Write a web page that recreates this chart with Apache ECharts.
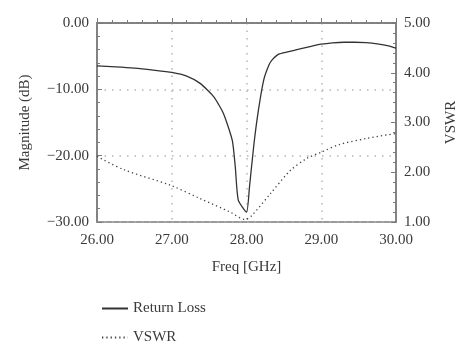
<!DOCTYPE html>
<html><head><meta charset="utf-8">
<script src="https://cdn.jsdelivr.net/npm/echarts@6/dist/echarts.min.js"></script>
<style>html,body{margin:0;padding:0;background:#fff}#c{width:474px;height:358px}</style>
</head><body><div id="c"></div>
<script>
const rlFreq = [26.0, 26.25, 26.5, 26.75, 27.0, 27.2, 27.38, 27.56, 27.69, 27.81, 27.85, 27.89, 28.0, 28.04, 28.10, 28.16, 28.23, 28.30, 28.34, 28.43, 28.55, 28.7, 28.85, 29.0, 29.15, 29.3, 29.45, 29.6, 29.75, 29.9, 30.0];
const rlVals = [-6.45, -6.6, -6.8, -7.1, -7.45, -8.0, -9.1, -11.1, -13.6, -17.7, -21.7, -26.7, -28.5, -24.7, -18.2, -13.1, -8.6, -6.35, -5.6, -4.7, -4.35, -3.95, -3.55, -3.2, -3.0, -2.9, -2.9, -2.97, -3.15, -3.45, -3.8];
const vsFreq = [26.0, 26.36, 26.98, 27.38, 27.78, 27.98, 28.07, 28.32, 28.59, 28.81, 29.01, 29.25, 29.61, 30.0];
const vsVals = [2.32, 2.05, 1.74, 1.47, 1.20, 1.05, 1.13, 1.57, 2.04, 2.28, 2.41, 2.56, 2.68, 2.78];
const xTicks = {min: 26, max: 30, interval: 1};
const fmt = v => (v < 0 ? '\u2212' : '') + Math.abs(v).toFixed(2);
const font = 'Liberation Serif';
const axisCol = '#7a7a7a', txt = '#3a3a3a';
const chart = echarts.init(document.getElementById('c'), null, {renderer: 'canvas'});
chart.setOption({
  animation: false,
  textStyle: {fontFamily: font},
  grid: {left: 97, right: 78, top: 23, bottom: 136, show: true, borderColor: axisCol, borderWidth: 1.5},
  legend: {
    orient: 'vertical', left: 96, top: 296, itemWidth: 26, itemHeight: 14, itemGap: 14,
    itemStyle: {color: 'transparent', borderWidth: 0, opacity: 0},
    textStyle: {fontFamily: font, fontSize: 15, color: txt},
    data: ['Return Loss', 'VSWR']
  },
  xAxis: {
    type: 'value', min: xTicks.min, max: xTicks.max, interval: xTicks.interval,
    name: 'Freq [GHz]', nameLocation: 'middle', nameGap: 38,
    nameTextStyle: {fontFamily: font, fontSize: 15, color: txt},
    axisLine: {lineStyle: {color: axisCol, width: 1.5}},
    axisTick: {inside: true, length: 5, lineStyle: {color: axisCol}},
    minorTick: {show: true, splitNumber: 5, length: 3, lineStyle: {color: axisCol}},
    axisLabel: {formatter: fmt, fontFamily: font, fontSize: 15, color: txt, margin: 11},
    splitLine: {show: true, lineStyle: {color: '#b5b5b5', type: [1.5, 6], width: 1.5}}
  },
  yAxis: [{
    type: 'value', min: -30, max: 0, interval: 10,
    name: 'Magnitude (dB)', nameLocation: 'middle', nameGap: 64,
    nameTextStyle: {fontFamily: font, fontSize: 15, color: txt},
    axisLine: {show: true, lineStyle: {color: axisCol, width: 1.5}},
    axisTick: {show: true, inside: true, length: 5, lineStyle: {color: axisCol}},
    minorTick: {show: true, splitNumber: 5, length: 3, lineStyle: {color: axisCol}},
    axisLabel: {formatter: fmt, fontFamily: font, fontSize: 15, color: txt, margin: 8},
    splitLine: {show: true, lineStyle: {color: '#b5b5b5', type: [1.5, 6], width: 1.5}}
  }, {
    type: 'value', min: 1, max: 5, interval: 1, position: 'right',
    name: 'VSWR', nameLocation: 'middle', nameGap: 48, nameRotate: 90,
    nameTextStyle: {fontFamily: font, fontSize: 15, color: txt},
    axisLine: {show: true, lineStyle: {color: axisCol, width: 1.5}},
    axisTick: {show: true, inside: true, length: 5, lineStyle: {color: axisCol}},
    minorTick: {show: true, splitNumber: 5, length: 3, lineStyle: {color: axisCol}},
    axisLabel: {formatter: fmt, fontFamily: font, fontSize: 15, color: txt, margin: 8},
    splitLine: {show: false}
  }],
  series: [{
    name: 'Return Loss', type: 'line', yAxisIndex: 0, symbol: 'none',
    smooth: 0.2,
    lineStyle: {color: '#333', width: 1.3},
    itemStyle: {color: '#333'},
    data: rlFreq.map((f, i) => [f, rlVals[i]])
  }, {
    name: 'VSWR', type: 'line', yAxisIndex: 1, symbol: 'none',
    smooth: 0.3,
    lineStyle: {color: '#444', width: 1.3, type: [1.3, 3]},
    itemStyle: {color: '#444'},
    data: vsFreq.map((f, i) => [f, vsVals[i]])
  }]
});
</script></body></html>
